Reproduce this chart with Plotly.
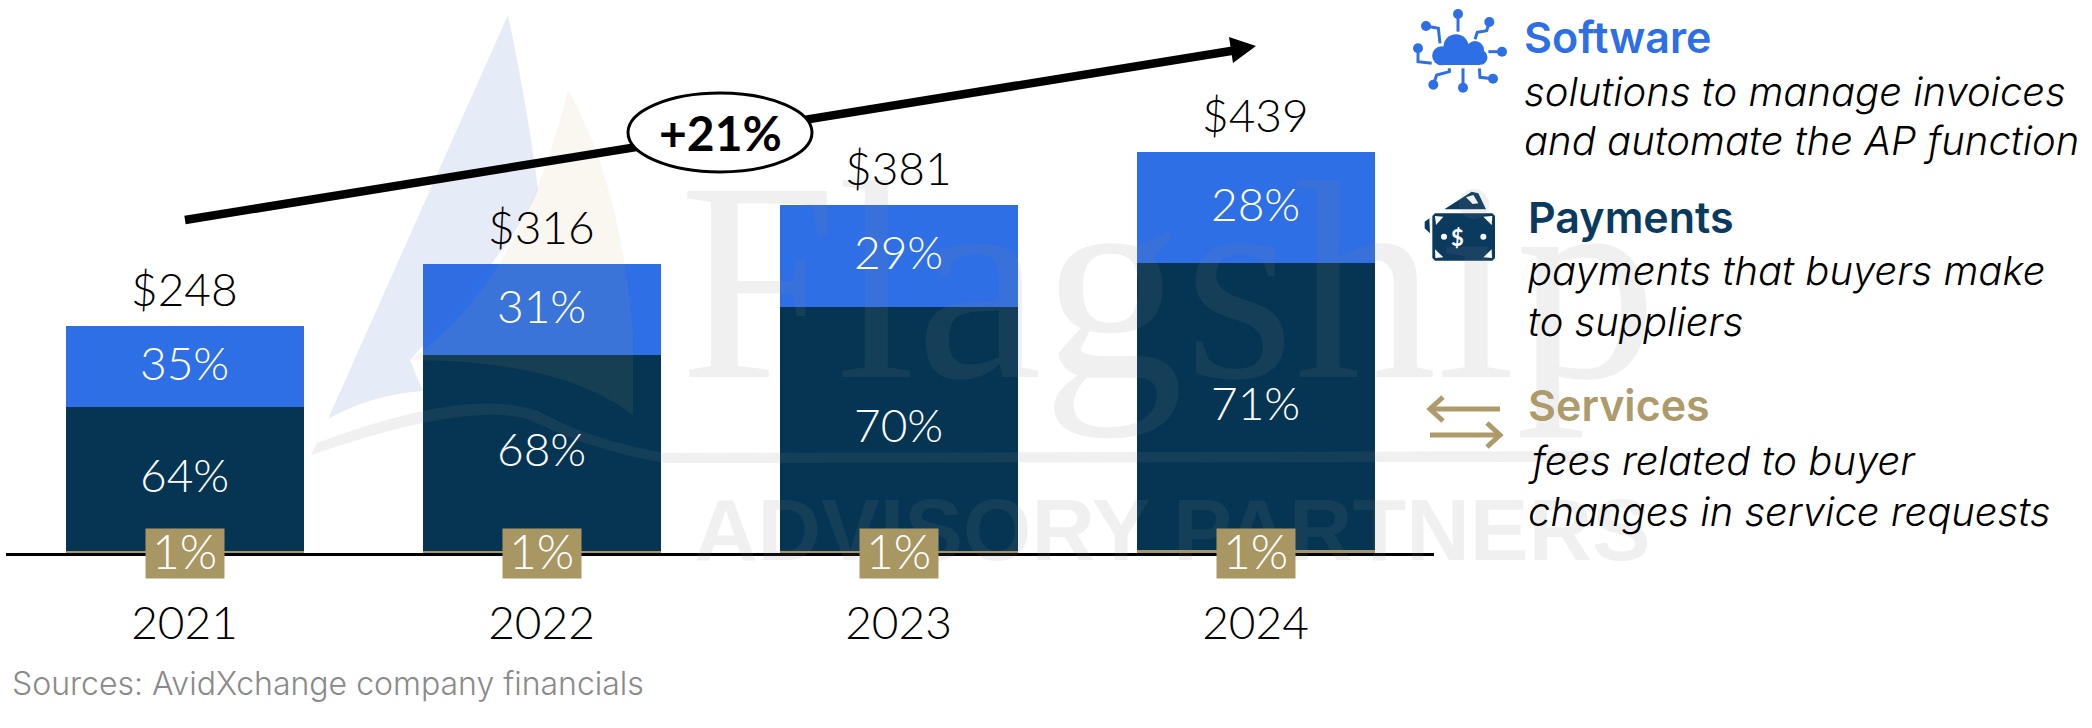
'''AvidXchange revenue by segment, stacked bars with watermark and side legend'''

import plotly.graph_objects as go

# revenue in $M
years = ["2021", "2022", "2023", "2024"]
services = [2, 2, 2.5, 3]
payments = [158, 215, 266.5, 314]
software = [88, 99, 112, 122]
totals = [248, 316, 381, 439]
total_labels = ["$248", "$316", "$381", "$439"]
services_pct = ["1%", "1%", "1%", "1%"]
payments_pct = ["64%", "68%", "70%", "71%"]
software_pct = ["35%", "31%", "29%", "28%"]

BLUE = "#2F6FE6"
NAVY = "#063554"
NAVY_TEXT = "#0B3A5F"
TAN = "#A99763"
TAN_TEXT = "#AE9B6B"
FONT = "Lato"
TEXT_FONT = "Inter"

W, H = 2092, 728
LEFT, RIGHT, BOTTOM = 6, 658, 175
PLOT_W = W - LEFT - RIGHT
PLOT_H = H - BOTTOM


def px(x):
    return (x - LEFT) / PLOT_W


def py(y):
    return (PLOT_H - y) / PLOT_H


def path(points, close=True):
    '''svg path in paper coords from pixel points'''
    s = "M" + " L".join(f"{px(x):.5f},{py(y):.5f}" for x, y in points)
    return s + (" Z" if close else "")


def curve(start, *segments):
    '''pixel start point followed by (cx, cy, x, y) quadratic segments or (x, y) lines'''
    s = f"M{px(start[0]):.5f},{py(start[1]):.5f}"
    for seg in segments:
        if len(seg) == 4:
            s += f" Q{px(seg[0]):.5f},{py(seg[1]):.5f} {px(seg[2]):.5f},{py(seg[3]):.5f}"
        else:
            s += f" L{px(seg[0]):.5f},{py(seg[1]):.5f}"
    return s + " Z"


def fill_shape(d, color):
    return dict(type="path", xref="paper", yref="paper", path=d, fillcolor=color,
                line=dict(width=0), layer="above")


def stroke_shape(points, color, width):
    return dict(type="path", xref="paper", yref="paper", path=path(points, close=False),
                fillcolor="rgba(0,0,0,0)", line=dict(color=color, width=width), layer="above")


def circle(cx, cy, r, color):
    return dict(type="circle", xref="paper", yref="paper", x0=px(cx - r), x1=px(cx + r),
                y0=py(cy + r), y1=py(cy - r), fillcolor=color, line=dict(width=0), layer="above")


def label(x, y, text, size, color="black", xanchor="left", weight=300, style="normal", family=TEXT_FONT):
    return dict(x=px(x), y=py(y), xref="paper", yref="paper", text=text, showarrow=False,
                xanchor=xanchor, yanchor="middle", align="left",
                font=dict(family=family, size=size, color=color, weight=weight, style=style))


def bar_label(i, y, text, size=46, color="white", **kw):
    return dict(x=i, y=y, text=text, showarrow=False,
                font=dict(family=FONT, size=size, color=color, weight=300), **kw)


fig = go.Figure()

fig.add_trace(go.Bar(x=years, y=services, marker_color=TAN, marker_line_width=0))
fig.add_trace(go.Bar(x=years, y=payments, marker_color=NAVY, marker_line_width=0))
fig.add_trace(go.Bar(x=years, y=software, marker_color=BLUE, marker_line_width=0))

shapes = []

# watermark sails, swoosh and rule
shapes.append(fill_shape(curve((508, 15), (528, 110, 538, 190), (515, 245, 410, 360), (423, 391),
                               (370, 395, 328, 419)), "rgba(60,100,200,0.13)"))
shapes.append(fill_shape(curve((568, 90), (620, 180, 633, 333), (633, 415), (560, 360, 410, 360),
                               (520, 285, 568, 90)), "rgba(190,170,90,0.09)"))
shapes.append(fill_shape(curve((311, 455), (317, 443), (470, 385, 540, 412), (590, 440, 665, 453),
                               (1595, 451), (1595, 462), (665, 463), (590, 450, 530, 420),
                               (470, 400, 311, 455)), "rgba(128,128,128,0.12)"))

# growth arrow
shapes.append(stroke_shape([(185, 220), (1237, 50)], "black", 8.5))
shapes.append(fill_shape(path([(1256, 46), (1229, 37), (1233, 63)]), "black"))
shapes.append(dict(type="circle", xref="paper", yref="paper", x0=px(628), x1=px(812),
                   y0=py(172), y1=py(93), fillcolor="white",
                   line=dict(color="black", width=3), layer="above"))

# software icon, traced in 3x zoom coords of the crop at (1400, 0)
z = lambda a, b: (1400 + a / 3, b / 3)
circuits = [
    [(174, 42), (174, 95)],
    [(268, 66), (260, 92), (232, 97), (225, 118)],
    [(306, 155), (265, 155)],
    [(279, 236), (240, 232), (238, 205)],
    [(189, 263), (189, 205)],
    [(100, 254), (110, 225), (148, 215), (148, 205)],
    [(54, 145), (54, 185), (95, 190)],
    [(78, 78), (115, 85), (120, 130)],
]
for c in circuits:
    shapes.append(stroke_shape([z(*p) for p in c], BLUE, 3))
    shapes.append(circle(*z(*c[0]), 5, BLUE))
shapes.append(circle(*z(168, 140), 12.5, BLUE))
shapes.append(circle(*z(125, 167), 9.5, BLUE))
shapes.append(circle(*z(225, 150), 9, BLUE))
shapes.append(circle(*z(240, 172), 7.5, BLUE))
shapes.append(fill_shape(path([z(125, 160), z(240, 160), z(240, 195), z(125, 195)]), BLUE))

# payments icon
shapes.append(fill_shape(path([z(133, 628), z(215, 575), z(235, 580), z(258, 628)]), NAVY_TEXT))
shapes.append(fill_shape(path([z(198, 592), z(220, 585), z(235, 610), z(218, 612)]), "white"))
shapes.append(fill_shape(path([z(88, 655), z(74, 665), z(74, 685), z(90, 700)]), NAVY_TEXT))
shapes.append(fill_shape(path([z(105, 640), z(277, 640), z(285, 648), z(285, 774), z(277, 782),
                               z(105, 782), z(97, 774), z(97, 648)]), NAVY_TEXT))
for pts in [[(105, 648), (130, 650), (108, 675)], [(250, 650), (277, 648), (275, 675)],
            [(105, 748), (130, 772), (106, 774)], [(275, 748), (276, 774), (250, 772)]]:
    shapes.append(fill_shape(path([z(*p) for p in pts]), "white"))
shapes.append(circle(*z(132, 710), 3, "white"))
shapes.append(circle(*z(250, 710), 3, "white"))

# services icon
for pts in [[(1500, 409), (1430, 409)], [(1443, 397), (1430, 409), (1443, 421)],
            [(1430, 435), (1500, 435)], [(1487, 423), (1500, 435), (1487, 447)]]:
    shapes.append(stroke_shape(pts, TAN_TEXT, 5))

annotations = [
    label(677, 281, "Flagship", 284, "rgba(128,128,128,0.12)", weight=400, family="Liberation Serif"),
    label(692, 529, "ADVISORY PARTNERS", 88, "rgba(128,128,128,0.12)", weight=700, family="Liberation Sans"),
]

# category axis annotations are placed by index, a "2021" string would read as position 2021
for i in range(len(years)):
    annotations.append(bar_label(i, totals[i], total_labels[i], color="black", yanchor="bottom", yshift=8))
    annotations.append(bar_label(i, services[i] + payments[i] + software[i] / 2, software_pct[i],
                                 yanchor="middle", yshift=4))
    annotations.append(bar_label(i, services[i] + payments[i] / 2, payments_pct[i],
                                 yanchor="middle", yshift=4))
    # box and text apart, the text sits a little above the middle of the box
    annotations.append(dict(x=i, y=0, text=" ", showarrow=False, yanchor="middle", width=78, height=49,
                            bgcolor=TAN, borderpad=0, font=dict(size=10)))
    annotations.append(bar_label(i, 0, services_pct[i], size=48, yanchor="middle", yshift=3))

annotations += [
    label(720, 132, "+21%", 48, xanchor="center", weight=700, family=FONT),
    label(1457, 238, "$", 22, "white", xanchor="center", weight=700, family=FONT),
    label(10, 683, "Sources: AvidXchange company financials", 32, "#8A8A8A"),
    label(1522, 37, "Software", 43, BLUE, weight=600),
    label(1522, 91, "solutions to manage invoices", 40, style="italic"),
    label(1522, 141, "and automate the AP function", 40, style="italic"),
    label(1526, 217, "Payments", 43, NAVY_TEXT, weight=600),
    label(1526, 270, "payments that buyers make", 40, style="italic"),
    label(1526, 321, "to suppliers", 40, style="italic"),
    label(1526, 405, "Services", 43, TAN_TEXT, weight=600),
    label(1526, 460, "fees related to buyer", 40, style="italic"),
    label(1526, 511, "changes in service requests", 40, style="italic"),
]

fig.update_layout(
    width=W, height=H, barmode="stack", bargap=1 / 3, showlegend=False,
    paper_bgcolor="white", plot_bgcolor="rgba(0,0,0,0)",
    margin=dict(l=LEFT, r=RIGHT, t=0, b=BOTTOM, pad=0),
    shapes=shapes, annotations=annotations,
    xaxis=dict(type="category", range=[-0.5, 3.5], automargin=False, showline=True, linecolor="black",
               linewidth=3, showgrid=False, ticks="outside", ticklen=28, tickcolor="rgba(0,0,0,0)",
               tickfont=dict(family=FONT, size=46, color="black", weight=300)),
    yaxis=dict(visible=False, range=[0, PLOT_H / 0.914], showgrid=False),
)

fig.write_html("out.html", config={"displayModeBar": False},
               post_script="document.body.style.margin='0';")
